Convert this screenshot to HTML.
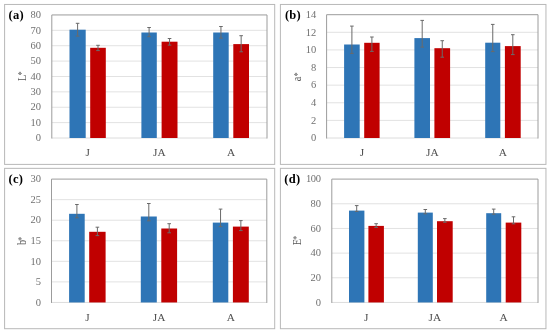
<!DOCTYPE html>
<html><head><meta charset="utf-8"><title>Colour parameters</title>
<style>
html,body{margin:0;padding:0;background:#fff;}
svg{display:block;}
text{font-family:"Liberation Serif", serif;}
</style></head><body>
<svg width="550" height="334" viewBox="0 0 550 334">
<rect x="0" y="0" width="550" height="334" fill="#ffffff"/>
<g>
<rect x="4.60" y="4.45" width="270.10" height="159.95" fill="#fff" stroke="#b8b8b8" stroke-width="1"/>
<text x="41.00" y="141.20" font-size="10.5" fill="#707070" text-anchor="end">0</text>
<line x1="51.80" y1="122.62" x2="267.00" y2="122.62" stroke="#e2e2e2" stroke-width="1"/>
<text x="41.00" y="125.82" font-size="10.5" fill="#707070" text-anchor="end">10</text>
<line x1="51.80" y1="107.24" x2="267.00" y2="107.24" stroke="#e2e2e2" stroke-width="1"/>
<text x="41.00" y="110.44" font-size="10.5" fill="#707070" text-anchor="end">20</text>
<line x1="51.80" y1="91.86" x2="267.00" y2="91.86" stroke="#e2e2e2" stroke-width="1"/>
<text x="41.00" y="95.06" font-size="10.5" fill="#707070" text-anchor="end">30</text>
<line x1="51.80" y1="76.47" x2="267.00" y2="76.47" stroke="#e2e2e2" stroke-width="1"/>
<text x="41.00" y="79.67" font-size="10.5" fill="#707070" text-anchor="end">40</text>
<line x1="51.80" y1="61.09" x2="267.00" y2="61.09" stroke="#e2e2e2" stroke-width="1"/>
<text x="41.00" y="64.29" font-size="10.5" fill="#707070" text-anchor="end">50</text>
<line x1="51.80" y1="45.71" x2="267.00" y2="45.71" stroke="#e2e2e2" stroke-width="1"/>
<text x="41.00" y="48.91" font-size="10.5" fill="#707070" text-anchor="end">60</text>
<line x1="51.80" y1="30.33" x2="267.00" y2="30.33" stroke="#e2e2e2" stroke-width="1"/>
<text x="41.00" y="33.53" font-size="10.5" fill="#707070" text-anchor="end">70</text>
<text x="41.00" y="18.15" font-size="10.5" fill="#707070" text-anchor="end">80</text>
<line x1="51.80" y1="138.00" x2="267.00" y2="138.00" stroke="#dcdcdc" stroke-width="1"/>
<rect x="69.50" y="29.70" width="16.20" height="108.30" fill="#2e75b6"/>
<rect x="90.20" y="47.80" width="15.60" height="90.20" fill="#c00000"/>
<rect x="141.40" y="32.50" width="15.40" height="105.50" fill="#2e75b6"/>
<rect x="161.60" y="41.70" width="15.90" height="96.30" fill="#c00000"/>
<rect x="213.20" y="32.50" width="15.50" height="105.50" fill="#2e75b6"/>
<rect x="233.30" y="44.10" width="15.70" height="93.90" fill="#c00000"/>
<path d="M51.80 138.50V14.95H267.00V138.50" fill="none" stroke="#9c9c9c" stroke-width="1"/>
<path d="M77.60 23.30V36.10M75.80 23.30H79.40M75.80 36.10H79.40" stroke="#6a6a6a" stroke-width="1" fill="none"/>
<path d="M98.00 45.30V50.60M96.20 45.30H99.80M96.20 50.60H99.80" stroke="#6a6a6a" stroke-width="1" fill="none"/>
<path d="M149.10 27.50V36.70M147.30 27.50H150.90M147.30 36.70H150.90" stroke="#6a6a6a" stroke-width="1" fill="none"/>
<path d="M169.55 38.50V45.10M167.75 38.50H171.35M167.75 45.10H171.35" stroke="#6a6a6a" stroke-width="1" fill="none"/>
<path d="M220.95 26.50V38.10M219.15 26.50H222.75M219.15 38.10H222.75" stroke="#6a6a6a" stroke-width="1" fill="none"/>
<path d="M241.15 35.70V51.80M239.35 35.70H242.95M239.35 51.80H242.95" stroke="#6a6a6a" stroke-width="1" fill="none"/>
<text x="87.67" y="156.40" font-size="11.3" fill="#505050" text-anchor="middle">J</text>
<text x="159.40" y="156.40" font-size="11.3" fill="#505050" text-anchor="middle">JA</text>
<text x="231.13" y="156.40" font-size="11.3" fill="#505050" text-anchor="middle">A</text>
<text x="8.60" y="18.80" font-size="12.5" letter-spacing="0.25" font-weight="bold" fill="#000">(a)</text>
<text transform="translate(25.70 80.90) rotate(-90) scale(0.95 1.1)" font-size="10.8" fill="#585858">L<tspan font-size="9" dx="-1.0" dy="-0.5">*</tspan></text>
</g>
<g>
<rect x="280.40" y="4.45" width="265.55" height="159.95" fill="#fff" stroke="#b8b8b8" stroke-width="1"/>
<text x="316.30" y="141.20" font-size="10.5" fill="#707070" text-anchor="end">0</text>
<line x1="326.60" y1="120.39" x2="538.00" y2="120.39" stroke="#e2e2e2" stroke-width="1"/>
<text x="316.30" y="123.59" font-size="10.5" fill="#707070" text-anchor="end">2</text>
<line x1="326.60" y1="102.77" x2="538.00" y2="102.77" stroke="#e2e2e2" stroke-width="1"/>
<text x="316.30" y="105.97" font-size="10.5" fill="#707070" text-anchor="end">4</text>
<line x1="326.60" y1="85.16" x2="538.00" y2="85.16" stroke="#e2e2e2" stroke-width="1"/>
<text x="316.30" y="88.36" font-size="10.5" fill="#707070" text-anchor="end">6</text>
<line x1="326.60" y1="67.54" x2="538.00" y2="67.54" stroke="#e2e2e2" stroke-width="1"/>
<text x="316.30" y="70.74" font-size="10.5" fill="#707070" text-anchor="end">8</text>
<line x1="326.60" y1="49.93" x2="538.00" y2="49.93" stroke="#e2e2e2" stroke-width="1"/>
<text x="316.30" y="53.13" font-size="10.5" fill="#707070" text-anchor="end">10</text>
<line x1="326.60" y1="32.31" x2="538.00" y2="32.31" stroke="#e2e2e2" stroke-width="1"/>
<text x="316.30" y="35.51" font-size="10.5" fill="#707070" text-anchor="end">12</text>
<text x="316.30" y="17.90" font-size="10.5" fill="#707070" text-anchor="end">14</text>
<line x1="326.60" y1="138.00" x2="538.00" y2="138.00" stroke="#dcdcdc" stroke-width="1"/>
<rect x="344.10" y="44.50" width="15.60" height="93.50" fill="#2e75b6"/>
<rect x="364.20" y="42.80" width="15.40" height="95.20" fill="#c00000"/>
<rect x="414.40" y="38.10" width="15.60" height="99.90" fill="#2e75b6"/>
<rect x="434.40" y="48.20" width="15.70" height="89.80" fill="#c00000"/>
<rect x="485.20" y="42.70" width="15.10" height="95.30" fill="#2e75b6"/>
<rect x="504.90" y="46.10" width="15.80" height="91.90" fill="#c00000"/>
<path d="M326.60 138.50V14.70H538.00V138.50" fill="none" stroke="#9c9c9c" stroke-width="1"/>
<path d="M351.90 26.10V53.40M350.10 26.10H353.70M350.10 53.40H353.70" stroke="#6a6a6a" stroke-width="1" fill="none"/>
<path d="M371.90 37.00V51.40M370.10 37.00H373.70M370.10 51.40H373.70" stroke="#6a6a6a" stroke-width="1" fill="none"/>
<path d="M422.20 20.40V47.10M420.40 20.40H424.00M420.40 47.10H424.00" stroke="#6a6a6a" stroke-width="1" fill="none"/>
<path d="M442.25 40.70V57.20M440.45 40.70H444.05M440.45 57.20H444.05" stroke="#6a6a6a" stroke-width="1" fill="none"/>
<path d="M492.75 24.40V51.60M490.95 24.40H494.55M490.95 51.60H494.55" stroke="#6a6a6a" stroke-width="1" fill="none"/>
<path d="M512.80 34.70V54.60M511.00 34.70H514.60M511.00 54.60H514.60" stroke="#6a6a6a" stroke-width="1" fill="none"/>
<text x="361.83" y="156.40" font-size="11.3" fill="#505050" text-anchor="middle">J</text>
<text x="432.30" y="156.40" font-size="11.3" fill="#505050" text-anchor="middle">JA</text>
<text x="502.77" y="156.40" font-size="11.3" fill="#505050" text-anchor="middle">A</text>
<text x="284.90" y="18.80" font-size="12.5" letter-spacing="0.25" font-weight="bold" fill="#000">(b)</text>
<text transform="translate(301.20 81.30) rotate(-90) scale(0.95 1.1)" font-size="10.8" fill="#585858">a<tspan font-size="9" dx="0.2" dy="-0.5">*</tspan></text>
</g>
<g>
<rect x="4.60" y="168.35" width="270.10" height="160.35" fill="#fff" stroke="#b8b8b8" stroke-width="1"/>
<text x="41.00" y="305.65" font-size="10.5" fill="#707070" text-anchor="end">0</text>
<line x1="51.50" y1="281.89" x2="266.80" y2="281.89" stroke="#e2e2e2" stroke-width="1"/>
<text x="41.00" y="285.09" font-size="10.5" fill="#707070" text-anchor="end">5</text>
<line x1="51.50" y1="261.33" x2="266.80" y2="261.33" stroke="#e2e2e2" stroke-width="1"/>
<text x="41.00" y="264.53" font-size="10.5" fill="#707070" text-anchor="end">10</text>
<line x1="51.50" y1="240.78" x2="266.80" y2="240.78" stroke="#e2e2e2" stroke-width="1"/>
<text x="41.00" y="243.97" font-size="10.5" fill="#707070" text-anchor="end">15</text>
<line x1="51.50" y1="220.22" x2="266.80" y2="220.22" stroke="#e2e2e2" stroke-width="1"/>
<text x="41.00" y="223.42" font-size="10.5" fill="#707070" text-anchor="end">20</text>
<line x1="51.50" y1="199.66" x2="266.80" y2="199.66" stroke="#e2e2e2" stroke-width="1"/>
<text x="41.00" y="202.86" font-size="10.5" fill="#707070" text-anchor="end">25</text>
<text x="41.00" y="182.30" font-size="10.5" fill="#707070" text-anchor="end">30</text>
<line x1="51.50" y1="302.45" x2="266.80" y2="302.45" stroke="#dcdcdc" stroke-width="1"/>
<rect x="69.10" y="213.80" width="15.60" height="88.65" fill="#2e75b6"/>
<rect x="89.20" y="231.80" width="16.40" height="70.65" fill="#c00000"/>
<rect x="140.80" y="216.50" width="16.00" height="85.95" fill="#2e75b6"/>
<rect x="161.30" y="228.50" width="15.80" height="73.95" fill="#c00000"/>
<rect x="212.80" y="222.60" width="15.50" height="79.85" fill="#2e75b6"/>
<rect x="232.90" y="226.60" width="15.90" height="75.85" fill="#c00000"/>
<path d="M51.50 302.95V179.10H266.80V302.95" fill="none" stroke="#9c9c9c" stroke-width="1"/>
<path d="M76.90 204.50V217.80M75.10 204.50H78.70M75.10 217.80H78.70" stroke="#6a6a6a" stroke-width="1" fill="none"/>
<path d="M97.40 227.20V235.60M95.60 227.20H99.20M95.60 235.60H99.20" stroke="#6a6a6a" stroke-width="1" fill="none"/>
<path d="M148.80 203.50V220.80M147.00 203.50H150.60M147.00 220.80H150.60" stroke="#6a6a6a" stroke-width="1" fill="none"/>
<path d="M169.20 223.70V232.80M167.40 223.70H171.00M167.40 232.80H171.00" stroke="#6a6a6a" stroke-width="1" fill="none"/>
<path d="M220.55 209.10V226.60M218.75 209.10H222.35M218.75 226.60H222.35" stroke="#6a6a6a" stroke-width="1" fill="none"/>
<path d="M240.85 220.60V230.60M239.05 220.60H242.65M239.05 230.60H242.65" stroke="#6a6a6a" stroke-width="1" fill="none"/>
<text x="87.38" y="320.50" font-size="11.3" fill="#505050" text-anchor="middle">J</text>
<text x="159.15" y="320.50" font-size="11.3" fill="#505050" text-anchor="middle">JA</text>
<text x="230.92" y="320.50" font-size="11.3" fill="#505050" text-anchor="middle">A</text>
<text x="8.60" y="182.60" font-size="12.5" letter-spacing="0.25" font-weight="bold" fill="#000">(c)</text>
<text transform="translate(25.50 245.10) rotate(-90) scale(0.95 1.1)" font-size="10.8" fill="#585858">b<tspan font-size="9" dx="-1.0" dy="-0.5">*</tspan></text>
</g>
<g>
<rect x="280.40" y="168.35" width="265.55" height="160.35" fill="#fff" stroke="#b8b8b8" stroke-width="1"/>
<text x="321.00" y="305.65" font-size="10.5" fill="#707070" text-anchor="end">0</text>
<line x1="331.80" y1="277.78" x2="538.00" y2="277.78" stroke="#e2e2e2" stroke-width="1"/>
<text x="321.00" y="280.98" font-size="10.5" fill="#707070" text-anchor="end">20</text>
<line x1="331.80" y1="253.11" x2="538.00" y2="253.11" stroke="#e2e2e2" stroke-width="1"/>
<text x="321.00" y="256.31" font-size="10.5" fill="#707070" text-anchor="end">40</text>
<line x1="331.80" y1="228.44" x2="538.00" y2="228.44" stroke="#e2e2e2" stroke-width="1"/>
<text x="321.00" y="231.64" font-size="10.5" fill="#707070" text-anchor="end">60</text>
<line x1="331.80" y1="203.77" x2="538.00" y2="203.77" stroke="#e2e2e2" stroke-width="1"/>
<text x="321.00" y="206.97" font-size="10.5" fill="#707070" text-anchor="end">80</text>
<text x="320.65" y="182.30" font-size="10.5" fill="#707070" text-anchor="end" letter-spacing="-0.35">100</text>
<line x1="331.80" y1="302.45" x2="538.00" y2="302.45" stroke="#dcdcdc" stroke-width="1"/>
<rect x="349.00" y="210.60" width="15.40" height="91.85" fill="#2e75b6"/>
<rect x="368.40" y="225.90" width="15.50" height="76.55" fill="#c00000"/>
<rect x="417.80" y="212.60" width="15.00" height="89.85" fill="#2e75b6"/>
<rect x="437.00" y="221.20" width="15.70" height="81.25" fill="#c00000"/>
<rect x="486.20" y="213.20" width="15.00" height="89.25" fill="#2e75b6"/>
<rect x="505.70" y="222.60" width="15.60" height="79.85" fill="#c00000"/>
<path d="M331.80 302.95V179.10H538.00V302.95" fill="none" stroke="#9c9c9c" stroke-width="1"/>
<path d="M356.70 205.60V211.40M354.90 205.60H358.50M354.90 211.40H358.50" stroke="#6a6a6a" stroke-width="1" fill="none"/>
<path d="M376.15 223.70V227.40M374.35 223.70H377.95M374.35 227.40H377.95" stroke="#6a6a6a" stroke-width="1" fill="none"/>
<path d="M425.30 209.50V213.80M423.50 209.50H427.10M423.50 213.80H427.10" stroke="#6a6a6a" stroke-width="1" fill="none"/>
<path d="M444.85 218.60V222.20M443.05 218.60H446.65M443.05 222.20H446.65" stroke="#6a6a6a" stroke-width="1" fill="none"/>
<path d="M493.70 209.10V214.20M491.90 209.10H495.50M491.90 214.20H495.50" stroke="#6a6a6a" stroke-width="1" fill="none"/>
<path d="M513.50 216.80V223.80M511.70 216.80H515.30M511.70 223.80H515.30" stroke="#6a6a6a" stroke-width="1" fill="none"/>
<text x="366.17" y="320.50" font-size="11.3" fill="#505050" text-anchor="middle">J</text>
<text x="434.90" y="320.50" font-size="11.3" fill="#505050" text-anchor="middle">JA</text>
<text x="503.63" y="320.50" font-size="11.3" fill="#505050" text-anchor="middle">A</text>
<text x="284.30" y="182.60" font-size="12.5" letter-spacing="0.25" font-weight="bold" fill="#000">(d)</text>
<text transform="translate(300.80 245.20) rotate(-90) scale(0.95 1.1)" font-size="10.8" fill="#585858">E<tspan font-size="9" dx="-1.0" dy="-0.5">*</tspan></text>
</g>
</svg>
</body></html>
